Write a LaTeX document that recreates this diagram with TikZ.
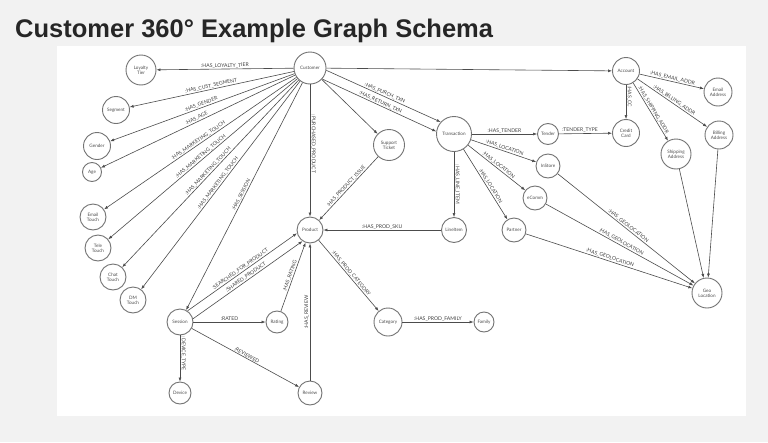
\documentclass[tikz,border=0pt]{standalone}
\usepackage{fontspec}
\setmainfont{Liberation Sans}
\newfontfamily\gillfont{Lato}
\usetikzlibrary{arrows.meta}
\newcommand{\Rel}[1]{:#1}

\begin{document}
\begin{tikzpicture}[
  x=1pt, y=-1pt,
  entity/.style={circle, draw=black!55, line width=0.9pt, fill=white,
    inner sep=0pt, align=center, text=black!70,
    font=\gillfont\fontsize{4.6}{5.2}\selectfont},
  rel/.style={-{Latex[length=4pt, width=3pt]}, black!70, line width=0.6pt},
  tag/.style={font=\gillfont\fontsize{5.1}{6}\selectfont, text=black!75,
    inner sep=0.8pt},
  stag/.style={tag, sloped, above},
  dtag/.style={tag, rotate=-90, anchor=south},
  utag/.style={tag, rotate=90, anchor=south},
]
  \useasboundingbox (0,0) rectangle (768,442);
  \fill[black!5] (0,0) rectangle (768,442);
  \fill[white] (57,46) rectangle (746,416);

  % Title
  \node[anchor=base west, inner sep=0pt, text=black!85,
    font=\bfseries\fontsize{25.5}{30}\selectfont] (title) at (15,37)
    {Customer 360° Example Graph Schema};

  % Nodes -- customer and its attributes
  \node[entity, minimum size=32] (Customer) at (310,68) {Customer};
  \node[entity, minimum size=30] (LoyaltyTier) at (141,70) {Loyalty\\Tier};
  \node[entity, minimum size=27] (Segment) at (116,110) {Segment};
  \node[entity, minimum size=27] (Gender) at (97,146) {Gender};
  \node[entity, minimum size=19] (Age) at (92,172) {Age};
  \node[entity, minimum size=26] (EmailTouch) at (93,217) {Email\\Touch};
  \node[entity, minimum size=26] (TeleTouch) at (98,248) {Tele\\Touch};
  \node[entity, minimum size=26] (ChatTouch) at (113,277) {Chat\\Touch};
  \node[entity, minimum size=26] (DMTouch) at (133,300) {DM\\Touch};

  % Nodes -- transactions and account
  \node[entity, minimum size=31] (SupportTicket) at (389,145) {Support\\Ticket};
  \node[entity, minimum size=35] (Transaction) at (454,134) {Transaction};
  \node[entity, minimum size=21] (Tender) at (548,134) {Tender};
  \node[entity, minimum size=24] (InStore) at (548,166) {InStore};
  \node[entity, minimum size=24] (eComm) at (535,198) {eComm};
  \node[entity, minimum size=24] (Partner) at (514,230) {Partner};
  \node[entity, minimum size=25] (LineItem) at (454,230) {LineItem};
  \node[entity, minimum size=27] (Account) at (626,71) {Account};
  \node[entity, minimum size=28] (EmailAddress) at (718,92) {Email\\Address};
  \node[entity, minimum size=27] (CreditCard) at (626,133) {Credit\\Card};
  \node[entity, minimum size=28] (BillingAddress) at (719,135) {Billing\\Address};
  \node[entity, minimum size=30] (ShippingAddress) at (676,154) {Shipping\\Address};
  \node[entity, minimum size=30] (GeoLocation) at (707,293) {Geo\\Location};

  % Nodes -- product and sessions
  \node[entity, minimum size=26] (Product) at (310,230) {Product};
  \node[entity, minimum size=26] (Session) at (180,322) {Session};
  \node[entity, minimum size=22] (Rating) at (277,322) {Rating};
  \node[entity, minimum size=22] (Device) at (180,393) {Device};
  \node[entity, minimum size=24] (Review) at (310,393) {Review};
  \node[entity, minimum size=28] (Category) at (388,322) {Category};
  \node[entity, minimum size=20] (Family) at (484,322) {Family};

  % Customer attributes (fan to the left)
  \draw[rel] (Customer) -- node[stag] {\Rel{HAS\_LOYALTY\_TIER}} (LoyaltyTier);
  \draw[rel] (Customer) -- node[stag] {\Rel{HAS\_CUST\_SEGMENT}} (Segment);
  \draw[rel] (Customer) -- node[stag] {\Rel{HAS\_GENDER}} (Gender);
  \draw[rel] (Customer) -- node[stag] {\Rel{HAS\_AGE}} (Age);
  \foreach \t in {EmailTouch, TeleTouch, ChatTouch, DMTouch}
    \draw[rel] (Customer) -- node[stag] {\Rel{HAS\_MARKETING\_TOUCH}} (\t);
  \draw[rel] (Customer) -- node[stag] {\Rel{HAS\_SESSION}} (Session);

  % Customer to product, tickets, transactions, account
  \draw[rel] (Customer) -- node[dtag, pos=.45] {\Rel{PURCHASED\_PRODUCT}} (Product);
  \draw[rel] (Customer) -- (SupportTicket);
  \draw[rel] (Customer.-8) -- node[stag] {\Rel{HAS\_PURCH\_TXN}} (Transaction.138);
  \draw[rel] (Customer.-42) -- node[stag] {\Rel{HAS\_RETURN\_TXN}} (Transaction.172);
  \draw[rel] (Customer) -- (Account);
  \draw[rel] (SupportTicket) -- node[stag] {\Rel{HAS\_PRODUCT\_ISSUE}} (Product);

  % Transaction side
  \draw[rel] (Transaction) -- node[stag] {\Rel{HAS\_TENDER}} (Tender);
  \draw[rel] (Tender) -- node[stag, pos=.4] {\Rel{TENDER\_TYPE}} (CreditCard);
  \draw[rel] (Transaction) -- node[stag] {\Rel{HAS\_LOCATION}} (InStore);
  \draw[rel] (Transaction) -- node[stag] {\Rel{HAS\_LOCATION}} (eComm);
  \draw[rel] (Transaction) -- node[stag, pos=.55] {\Rel{HAS\_LOCATION}} (Partner);
  \draw[rel] (Transaction) -- node[dtag] {\Rel{HAS\_LINE\_ITEM}} (LineItem);
  \draw[rel] (LineItem) -- node[stag] {\Rel{HAS\_PROD\_SKU}} (Product);

  % Account side
  \draw[rel] (Account) -- node[stag] {\Rel{HAS\_EMAIL\_ADDR}} (EmailAddress);
  \draw[rel] (Account) -- node[dtag, pos=.35] {\Rel{HAS\_CC}} (CreditCard);
  \draw[rel] (Account) -- node[stag] {\Rel{HAS\_SHIPPING\_ADDR}} (ShippingAddress);
  \draw[rel] (Account) -- node[stag] {\Rel{HAS\_BILLING\_ADDR}} (BillingAddress);

  % Geolocation
  \foreach \t in {InStore, eComm, Partner}
    \draw[rel] (\t) -- node[stag] {\Rel{HAS\_GEOLOCATION}} (GeoLocation);
  \draw[rel] (ShippingAddress) -- (GeoLocation);
  \draw[rel] (BillingAddress) -- (GeoLocation);

  % Product and sessions
  \draw[rel] (Product) -- node[stag] {\Rel{HAS\_PROD\_CATEGORY}} (Category);
  \draw[rel] (Category) -- node[stag] {\Rel{HAS\_PROD\_FAMILY}} (Family);
  \draw[rel] (Session.56) -- node[stag] {\Rel{SEARCHED\_FOR\_PRODUCT}} (Product.194);
  \draw[rel] (Session.14) -- node[stag] {\Rel{SHARED\_PRODUCT}} (Product.236);
  \draw[rel] (Session) -- node[stag] {\Rel{RATED}} (Rating);
  \draw[rel] (Rating) -- node[stag] {\Rel{HAS\_RATING}} (Product);
  \draw[rel] (Session) -- node[stag] {\Rel{REVIEWED}} (Review);
  \draw[rel] (Review) -- node[utag] {\Rel{HAS\_REVIEW}} (Product);
  \draw[rel] (Session) -- node[dtag, pos=.4] {\Rel{DEVICE\_TYPE}} (Device);

\end{tikzpicture}
\end{document}
